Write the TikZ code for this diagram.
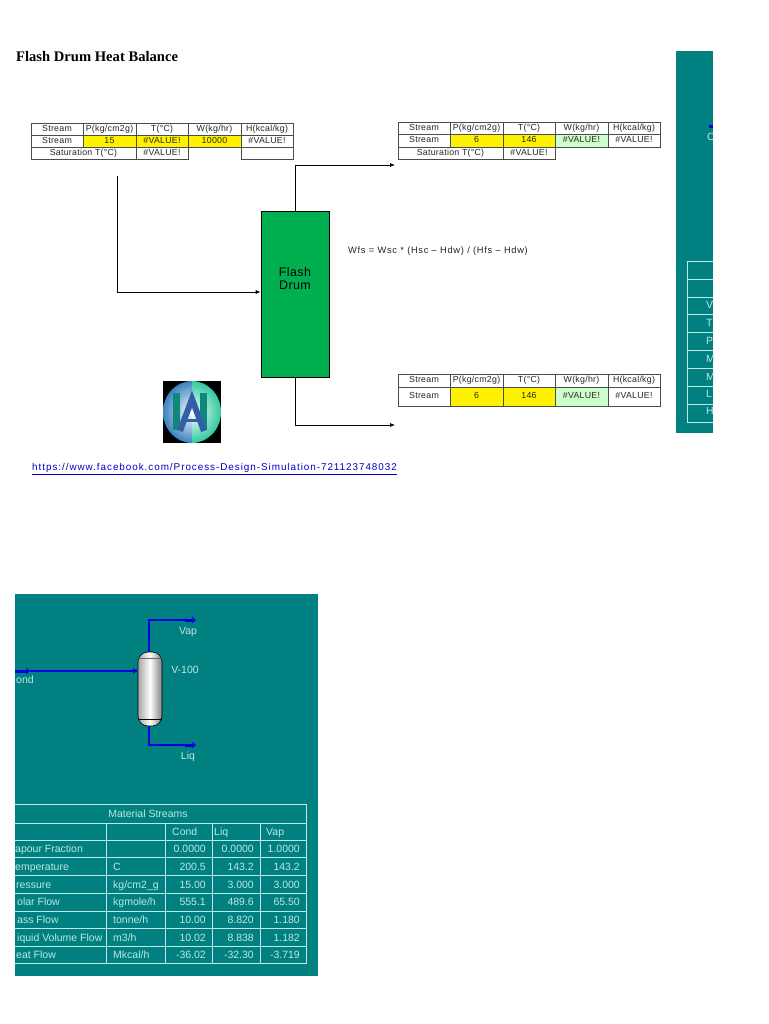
\documentclass[tikz,border=0pt]{standalone}
\usepackage{fontspec}
\setmainfont{Liberation Sans}
\newfontfamily\titlefont{Liberation Serif}
\newfontfamily\sheetfont[LetterSpace=3]{Liberation Sans}
\newfontfamily\drumfont[LetterSpace=3]{Liberation Sans}
\newfontfamily\eqnfont[LetterSpace=7.5]{Liberation Sans}
\newfontfamily\linkfont[LetterSpace=9.6]{Liberation Sans}
\usetikzlibrary{arrows.meta}

\definecolor{panelteal}{RGB}{0,128,128}
\definecolor{panelline}{RGB}{190,232,226}
\definecolor{drumgreen}{RGB}{0,176,80}
\definecolor{paleCell}{RGB}{204,255,204}
\definecolor{pipeblue}{RGB}{0,0,225}
\definecolor{linkblue}{RGB}{0,0,200}
\definecolor{logoblue}{RGB}{60,130,190}
\definecolor{logogreen}{RGB}{50,200,160}
\definecolor{logobar}{RGB}{15,135,125}
\definecolor{logoletter}{RGB}{50,95,165}

\tikzset{
	cell/.style={draw=black!70, line width=0.7pt},
	celltext/.style={font=\sheetfont\fontsize{8.8}{10}\selectfont, inner sep=0pt, text=black!85, text height=6.4pt, text depth=1.6pt},
	line/.style={draw=black, line width=0.7pt},
	flow/.style={line, -{Latex[length=5pt,width=4pt]}},
	pipe/.style={draw=pipeblue, line width=1.5pt},
	pipeend/.style={draw=pipeblue, line width=3pt, -{Stealth[length=4pt,width=7pt]}},
	panelrule/.style={draw=panelline, line width=0.6pt},
	paneltext/.style={font=\fontsize{10.5}{12}\selectfont, text=panelline, inner sep=0pt, text height=7.6pt, text depth=2pt},
}

% one spreadsheet cell, #1 name, #2-#5 x1 x2 y1 y2, #6 fill, #7 text
\newcommand{\sheetcell}[7]{
	\path[cell, fill=#6] (#2,#4) rectangle node[celltext] (#1) {#7} (#3,#5);
}

\begin{document}
\begin{tikzpicture}[x=1pt, y=-1pt]
	\useasboundingbox (0,0) rectangle (768,1024);
	\fill[white] (0,0) rectangle (768,1024);

	\node[anchor=west, inner sep=0pt, font=\titlefont\bfseries\fontsize{14.6}{16}\selectfont] (heading) at (16,57) {Flash Drum Heat Balance};

	% feed table
	\begin{scope}
		\sheetcell{a1}{31}{83}{123}{135}{white}{Stream}
		\sheetcell{a2}{83}{136}{123}{135}{white}{P(kg/cm2g)}
		\sheetcell{a3}{136}{188}{123}{135}{white}{T(\textdegree C)}
		\sheetcell{a4}{188}{241}{123}{135}{white}{W(kg/hr)}
		\sheetcell{a5}{241}{293}{123}{135}{white}{H(kcal/kg)}
		\sheetcell{b1}{31}{83}{135}{147}{white}{Stream}
		\sheetcell{b2}{83}{136}{135}{147}{yellow}{15}
		\sheetcell{b3}{136}{188}{135}{147}{yellow}{\#VALUE!}
		\sheetcell{b4}{188}{241}{135}{147}{yellow}{10000}
		\sheetcell{b5}{241}{293}{135}{147}{white}{\#VALUE!}
		\sheetcell{c1}{31}{136}{147}{159}{white}{Saturation T(\textdegree C)}
		\sheetcell{c3}{136}{188}{147}{159}{white}{\#VALUE!}
		\sheetcell{c5}{241}{293}{147}{159}{white}{}
	\end{scope}

	% vapour table
	\begin{scope}
		\sheetcell{d1}{398}{450}{122}{134}{white}{Stream}
		\sheetcell{d2}{450}{503}{122}{134}{white}{P(kg/cm2g)}
		\sheetcell{d3}{503}{555}{122}{134}{white}{T(\textdegree C)}
		\sheetcell{d4}{555}{608}{122}{134}{white}{W(kg/hr)}
		\sheetcell{d5}{608}{660}{122}{134}{white}{H(kcal/kg)}
		\sheetcell{e1}{398}{450}{134}{147}{white}{Stream}
		\sheetcell{e2}{450}{503}{134}{147}{yellow}{6}
		\sheetcell{e3}{503}{555}{134}{147}{yellow}{146}
		\sheetcell{e4}{555}{608}{134}{147}{paleCell}{\#VALUE!}
		\sheetcell{e5}{608}{660}{134}{147}{white}{\#VALUE!}
		\sheetcell{f1}{398}{503}{147}{159}{white}{Saturation T(\textdegree C)}
		\sheetcell{f3}{503}{555}{147}{159}{white}{\#VALUE!}
	\end{scope}

	% liquid table
	\begin{scope}
		\sheetcell{g1}{398}{450}{374}{387}{white}{Stream}
		\sheetcell{g2}{450}{503}{374}{387}{white}{P(kg/cm2g)}
		\sheetcell{g3}{503}{555}{374}{387}{white}{T(\textdegree C)}
		\sheetcell{g4}{555}{608}{374}{387}{white}{W(kg/hr)}
		\sheetcell{g5}{608}{660}{374}{387}{white}{H(kcal/kg)}
		\sheetcell{h1}{398}{450}{387}{406}{white}{Stream}
		\sheetcell{h2}{450}{503}{387}{406}{yellow}{6}
		\sheetcell{h3}{503}{555}{387}{406}{yellow}{146}
		\sheetcell{h4}{555}{608}{387}{406}{paleCell}{\#VALUE!}
		\sheetcell{h5}{608}{660}{387}{406}{white}{\#VALUE!}
	\end{scope}

	% drum and its streams
	\node[draw=black, line width=0.7pt, fill=drumgreen, minimum width=68pt, minimum height=166pt, inner sep=0pt] (drum) at (295,294) {};
	\node[align=center, inner sep=0pt, font=\drumfont\fontsize{12.5}{13}\selectfont] (drumLabel) at (295,278.5) {Flash\\Drum};
	\coordinate (feedStart) at (117,176);
	\coordinate (vapOut) at (395,165);
	\coordinate (liqOut) at (395,425);
	\draw[flow] (feedStart) |- (drum.west |- 0,292);
	\draw[flow] (drum.north) |- (vapOut);
	\draw[flow] (drum.south) |- (liqOut);

	\node[anchor=west, inner sep=0pt, font=\eqnfont\fontsize{9.3}{11}\selectfont, text=black!85] (balance) at (348,251.5) {Wfs = Wsc * (Hsc – Hdw) / (Hfs – Hdw)};

	% logo
	\begin{scope}
		\fill[black] (163,381) rectangle (221,443);
		\begin{scope}
			\clip (163,381) rectangle (192,443);
			\shade[inner color=white, outer color=logoblue] (192,412) ellipse (29 and 31);
		\end{scope}
		\begin{scope}
			\clip (192,381) rectangle (221,443);
			\shade[inner color=white, outer color=logogreen] (192,412) ellipse (29 and 31);
		\end{scope}
		\fill[logobar] (173,393) rectangle (180,430);
		\fill[logobar] (200,393) rectangle (207,430);
		\draw[logoletter, line width=6pt] (180,431) -- (192,399) -- (204,431);
		\draw[logoletter, line width=3pt] (184,420) -- (200,420);
	\end{scope}

	\node[anchor=west, inner sep=0pt, font=\linkfont\fontsize{9.9}{11}\selectfont, text=linkblue] (link) at (32,469) {\underline{https://www.facebook.com/Process-Design-Simulation-721123748032}};

	% right panel, only its first letters are on the page
	\begin{scope}
		\clip (676,51) rectangle (713,433);
		\fill[panelteal] (676,51) rectangle (713,433);
		\coordinate (stubStart) at (709,127);
		\coordinate (stubEnd) at (713,127);
		\draw[pipeend, -] (stubStart) -- (stubEnd);
		\node[paneltext, anchor=west] (rightC) at (707,138) {C};
		\draw[panelrule] (713,261) -| (687,422) -- (713,422);
		\foreach \ry in {279,297,314,332,350,368,386,404}
			\draw[panelrule] (687,\ry) -- (713,\ry);
		\foreach \n/\ry/\lab in {1/306/V,2/324/T,3/342/P,4/360/M,5/378/M,6/395/L,7/412/H}
			\node[paneltext, anchor=west] (rightLab\n) at (706,\ry) {\lab};
	\end{scope}

	% lower panel
	\begin{scope}
		\fill[panelteal] (15,594) rectangle (318,976);

		% vessel
		\node[draw=black, line width=0.6pt, inner sep=0pt, minimum width=24pt, minimum height=74pt,
			rounded corners=10pt, left color=black!35, right color=black!50, middle color=white] (vessel) at (150,689) {};
		\draw[black!60, line width=0.6pt] (138,658) -- (162,658);
		\draw[black, line width=1pt] (138,719) -- (162,719);

		% pipes
		\coordinate (condIn) at (15,671);
		\coordinate (condBend) at (30,671);
		\coordinate (vapBend) at (149,620);
		\coordinate (vapEnd) at (185,620);
		\coordinate (vapTip) at (196,620);
		\coordinate (liqBend) at (149,745);
		\coordinate (liqEnd) at (185,745);
		\coordinate (liqTip) at (196,745);
		\draw[pipeend] (condIn) -- (condBend);
		\draw[pipe, -{Stealth[length=5pt,width=6pt]}] (condBend) -- (vessel.west |- condBend);
		\draw[pipe] (vessel.north -| vapBend) -- (vapBend) -- (vapEnd);
		\draw[pipeend] (vapEnd) -- (vapTip);
		\draw[pipe] (vessel.south -| liqBend) -- (liqBend) -- (liqEnd);
		\draw[pipeend] (liqEnd) -- (liqTip);

		% labels
		\node[paneltext, anchor=west] (condLabel) at (16,681) {ond};
		\node[paneltext] (vapLabel) at (188,632) {Vap};
		\node[paneltext] (vesselLabel) at (185,671) {V-100};
		\node[paneltext] (liqLabel) at (188,757) {Liq};

		% table
		\draw[panelrule] (15,804) -- (306,804) -- (306,963) -- (15,963);
		\foreach \ry in {823,840,857,875,893,911,928,946}
			\draw[panelrule] (15,\ry) -- (306,\ry);
		\foreach \cx in {106,165,212,260}
			\draw[panelrule] (\cx,823) -- (\cx,963);
		\node[paneltext] (title) at (148,815) {Material Streams};
		\node[paneltext, anchor=west] (headCond) at (172,833) {Cond};
		\node[paneltext, anchor=west] (headLiq) at (214,833) {Liq};
		\node[paneltext, anchor=west] (headVap) at (266,833) {Vap};
		\foreach \n/\ry/\lx/\lab/\unit/\vc/\vl/\vv in {
			1/850/15/apour Fraction//0.0000/0.0000/1.0000,
			2/868/15/emperature/C/200.5/143.2/143.2,
			3/886/16/ressure/kg\slash cm2\_g/15.00/3.000/3.000,
			4/903/17/olar Flow/kgmole\slash h/555.1/489.6/65.50,
			5/921/17/ass Flow/tonne\slash h/10.00/8.820/1.180,
			6/939/17/iquid Volume Flow/m3\slash h/10.02/8.838/1.182,
			7/956/16/eat Flow/Mkcal\slash h/-36.02/-32.30/-3.719}
		{
			\node[paneltext, anchor=west] (lab\n) at (\lx,\ry) {\lab};
			\node[paneltext, anchor=west] (unit\n) at (113,\ry) {\unit};
			\node[paneltext, anchor=east] (cond\n) at (206,\ry) {\vc};
			\node[paneltext, anchor=east] (liq\n) at (254,\ry) {\vl};
			\node[paneltext, anchor=east] (vap\n) at (300,\ry) {\vv};
		}
	\end{scope}
\end{tikzpicture}
\end{document}
